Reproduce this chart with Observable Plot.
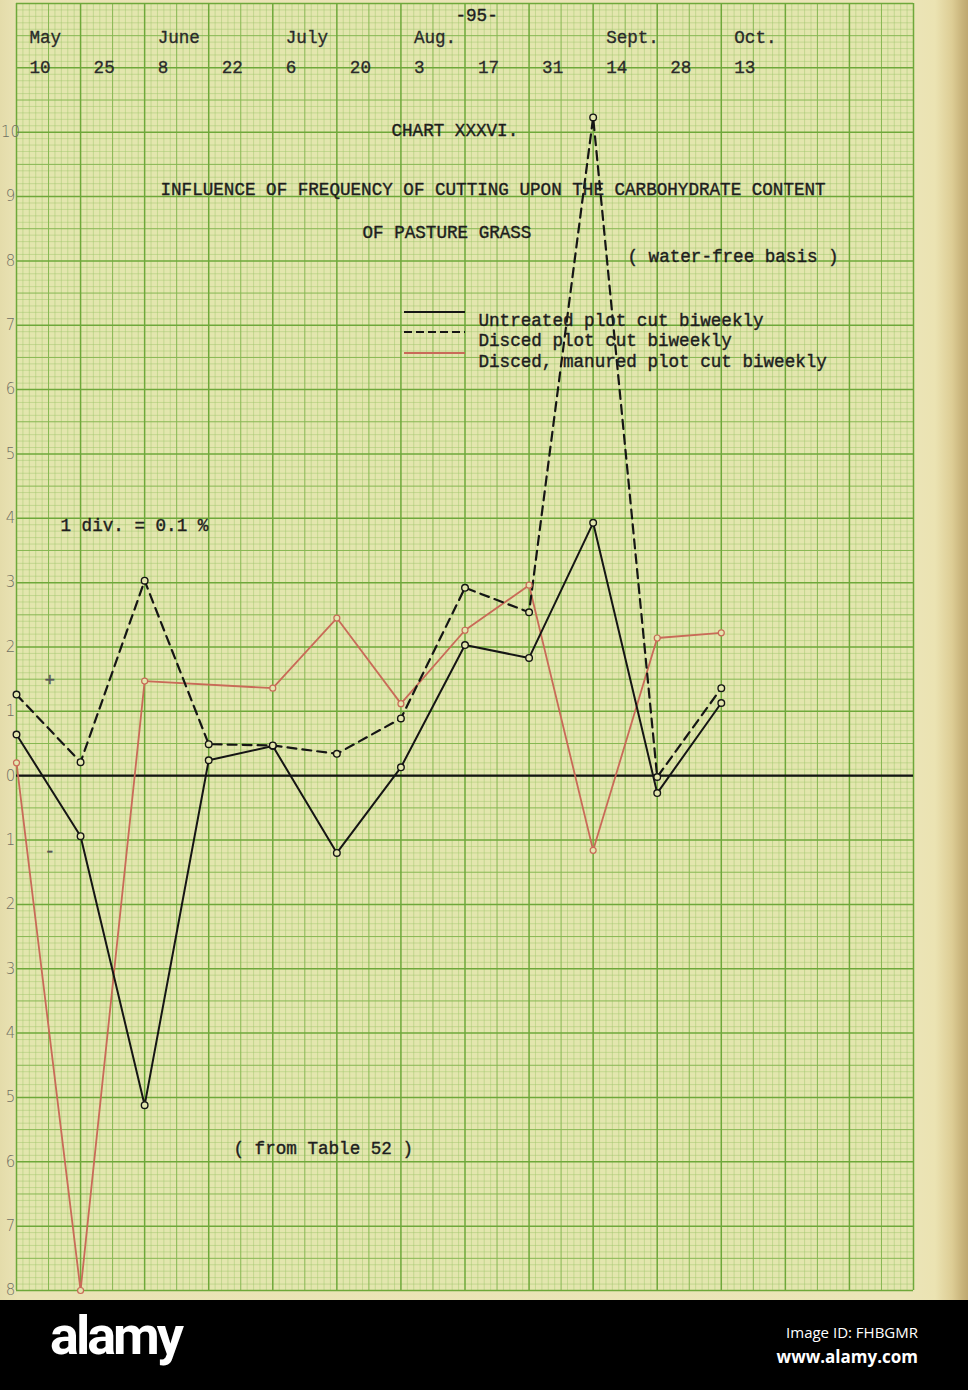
<!DOCTYPE html>
<html><head><meta charset="utf-8">
<script src="https://cdn.jsdelivr.net/npm/d3@7"></script>
<script src="https://cdn.jsdelivr.net/npm/@observablehq/plot@0.6"></script>
<style>
html,body{margin:0;padding:0;background:#000;}
#page{width:968px;height:1300px;position:relative;overflow:hidden;
 background:linear-gradient(to right,#e4dcaa 0px,#eae3b5 18px,#ebe5b8 905px,#ebe3b2 935px,#ddcd95 952px,#c9b47b 962px,#bfa870 968px);}
#page svg{display:block;}
#band{width:968px;height:90px;background:#000;position:relative;color:#fff;}
#logo{position:absolute;left:50px;top:6px;font-family:Roboto,"Open Sans",sans-serif;font-weight:700;font-size:54px;letter-spacing:-3px;line-height:60px;}
#imgid{position:absolute;right:50px;top:22px;font-family:"Open Sans",sans-serif;font-size:15px;line-height:20px;text-align:right;}
#www{position:absolute;right:50px;top:46px;font-family:"Open Sans",sans-serif;font-weight:700;font-size:17px;line-height:22px;text-align:right;}
</style></head><body>
<div id="page"></div>
<div id="band"><div id="logo">alamy</div><div id="imgid">Image ID: FHBGMR</div><div id="www">www.alamy.com</div></div>
<script>
// ---- data ----
const monthLabels = ["May", "June", "July", "Aug.", "Sept.", "Oct."];
const monthAt = [0, 2, 4, 6, 9, 11];            // date index each month name sits over
const dayLabels = ["10", "25", "8", "22", "6", "20", "3", "17", "31", "14", "28", "13"];
const yTickValues = [10, 9, 8, 7, 6, 5, 4, 3, 2, 1, 0, -1, -2, -3, -4, -5, -6, -7, -8];

const seriesNames = ["Untreated plot cut biweekly", "Disced plot cut biweekly", "Disced, manured plot cut biweekly"];
const untreated = [0.64, -0.94, -5.12, 0.24, 0.46, -1.20, 0.13, 2.03, 1.83, 3.93, -0.27, 1.13];
const disced    = [1.26, 0.21, 3.03, 0.49, 0.47, 0.34, 0.89, 2.92, 2.54, 10.23, -0.02, 1.36];
const manured   = [0.20, -8.00, 1.47, null, 1.36, 2.45, 1.12, 2.26, 2.96, -1.16, 2.14, 2.22];

// ---- build tables ----
const toRows = (vals, s) => vals.map((v, i) => ({i, v, s})).filter(d => d.v != null);
const rowsU = toRows(untreated, seriesNames[0]);
const rowsD = toRows(disced, seriesNames[1]);
const rowsM = toRows(manured, seriesNames[2]);

const paper = "#e3e6ae";
const ink = "#151515";
const red = "#c96a58";
const typeFont = "Liberation Mono, Courier New, monospace";

const minorX = d3.range(0, 140.5).map(k => k / 10).filter(v => Math.round(v * 10) % 5 !== 0);
const mediumX = d3.range(0, 28.5).map(k => k / 2).filter(v => !Number.isInteger(v));
const majorX = d3.range(0, 15);
const minorY = d3.range(-80, 120.5).map(k => k / 10).filter(v => Math.round(v * 10) % 5 !== 0);
const mediumY = d3.range(-16, 24.5).map(k => k / 2).filter(v => !Number.isInteger(v));
const majorY = d3.range(-8, 13);

const typed = (txt, dx, dy, opts = {}) => Plot.text([txt], {
  text: d => d, frameAnchor: "top-left", dx, dy, textAnchor: "start",
  fontFamily: typeFont, fontSize: 17.6, fill: "#1e1e1e", stroke: "#1e1e1e", strokeWidth: 0.4, ...opts
});

const chart = Plot.plot({
  width: 968, height: 1300,
  marginLeft: 16, marginRight: 55, marginTop: 3, marginBottom: 10,
  x: {domain: [0, 14], axis: null},
  y: {domain: [-8, 12], label: null},
  style: {background: "transparent", overflow: "visible"},
  marks: [
    Plot.frame({fill: paper, stroke: null}),
    Plot.ruleX(minorX, {stroke: "#9cc46a", strokeWidth: 0.6, strokeOpacity: 0.75}),
    Plot.ruleY(minorY, {stroke: "#9cc46a", strokeWidth: 0.6, strokeOpacity: 0.75}),
    Plot.ruleX(mediumX, {stroke: "#86b752", strokeWidth: 1}),
    Plot.ruleY(mediumY, {stroke: "#86b752", strokeWidth: 1}),
    Plot.ruleX(majorX, {stroke: "#6ea83a", strokeWidth: 1.5}),
    Plot.ruleY(majorY, {stroke: "#6ea83a", strokeWidth: 1.5}),
    Plot.axisY(yTickValues, {anchor: "left", label: null, tickSize: 0, tickPadding: 6, textAnchor: "middle",
      tickFormat: d => String(Math.abs(d)), fontSize: 15, fill: "#6f6f62",
      fontFamily: "DejaVu Sans, sans-serif", fontWeight: 300}),
    Plot.ruleY([0], {stroke: ink, strokeWidth: 2.3}),
    Plot.line(rowsM, {x: "i", y: "v", stroke: red, strokeWidth: 1.8, strokeLinejoin: "round"}),
    Plot.line(rowsU, {x: "i", y: "v", stroke: ink, strokeWidth: 2, strokeLinejoin: "round"}),
    Plot.line(rowsD, {x: "i", y: "v", stroke: ink, strokeWidth: 2.2, strokeDasharray: "9,6"}),
    Plot.dot(rowsM, {x: "i", y: "v", r: 3, stroke: red, fill: paper, strokeWidth: 1.2}),
    Plot.dot(rowsU, {x: "i", y: "v", r: 3.3, stroke: ink, fill: paper, strokeWidth: 1.4}),
    Plot.dot(rowsD, {x: "i", y: "v", r: 3.3, stroke: ink, fill: paper, strokeWidth: 1.4}),
    // top date labels
    Plot.text(monthLabels, {x: (d, i) => monthAt[i], text: d => d, frameAnchor: "top", dy: 27, dx: 13,
      textAnchor: "start", fontFamily: typeFont, fontSize: 17.6, fill: "#2a2a2a", stroke: "#2a2a2a", strokeWidth: 0.3}),
    Plot.text(dayLabels, {x: (d, i) => i, text: d => d, frameAnchor: "top", dy: 57, dx: 13,
      textAnchor: "start", fontFamily: typeFont, fontSize: 17.6, fill: "#2a2a2a", stroke: "#2a2a2a", strokeWidth: 0.3}),
    // annotations
    typed("-95-", 439, 5),
    typed("CHART XXXVI.", 375, 120),
    typed("INFLUENCE OF FREQUENCY OF CUTTING UPON THE CARBOHYDRATE CONTENT", 144, 179),
    typed("OF PASTURE GRASS", 346, 222),
    typed("( water-free basis )", 611, 246),
    typed("1 div. = 0.1 %", 44, 515),
    typed("( from Table 52 )", 217, 1138),
    typed("+", 28, 670, {fill: "#555", stroke: "#555"}),
    typed("-", 28, 841, {fill: "#555", stroke: "#555"}),
    // legend labels
    typed(seriesNames[0], 462, 310),
    typed(seriesNames[1], 462, 330),
    typed(seriesNames[2], 462, 351)
  ]
});

// legend swatches
const svg = d3.select(chart);
const lg = svg.append("g");
const swatch = [
  {y: 312, stroke: ink, dash: null, w: 2},
  {y: 332, stroke: ink, dash: "8,4", w: 2},
  {y: 353, stroke: red, dash: null, w: 2}
];
swatch.forEach(s => {
  lg.append("line").attr("x1", 404).attr("x2", 465).attr("y1", s.y).attr("y2", s.y)
    .attr("stroke", s.stroke).attr("stroke-width", s.w).attr("stroke-dasharray", s.dash);
});

document.getElementById("page").appendChild(chart);
</script>
</body></html>
